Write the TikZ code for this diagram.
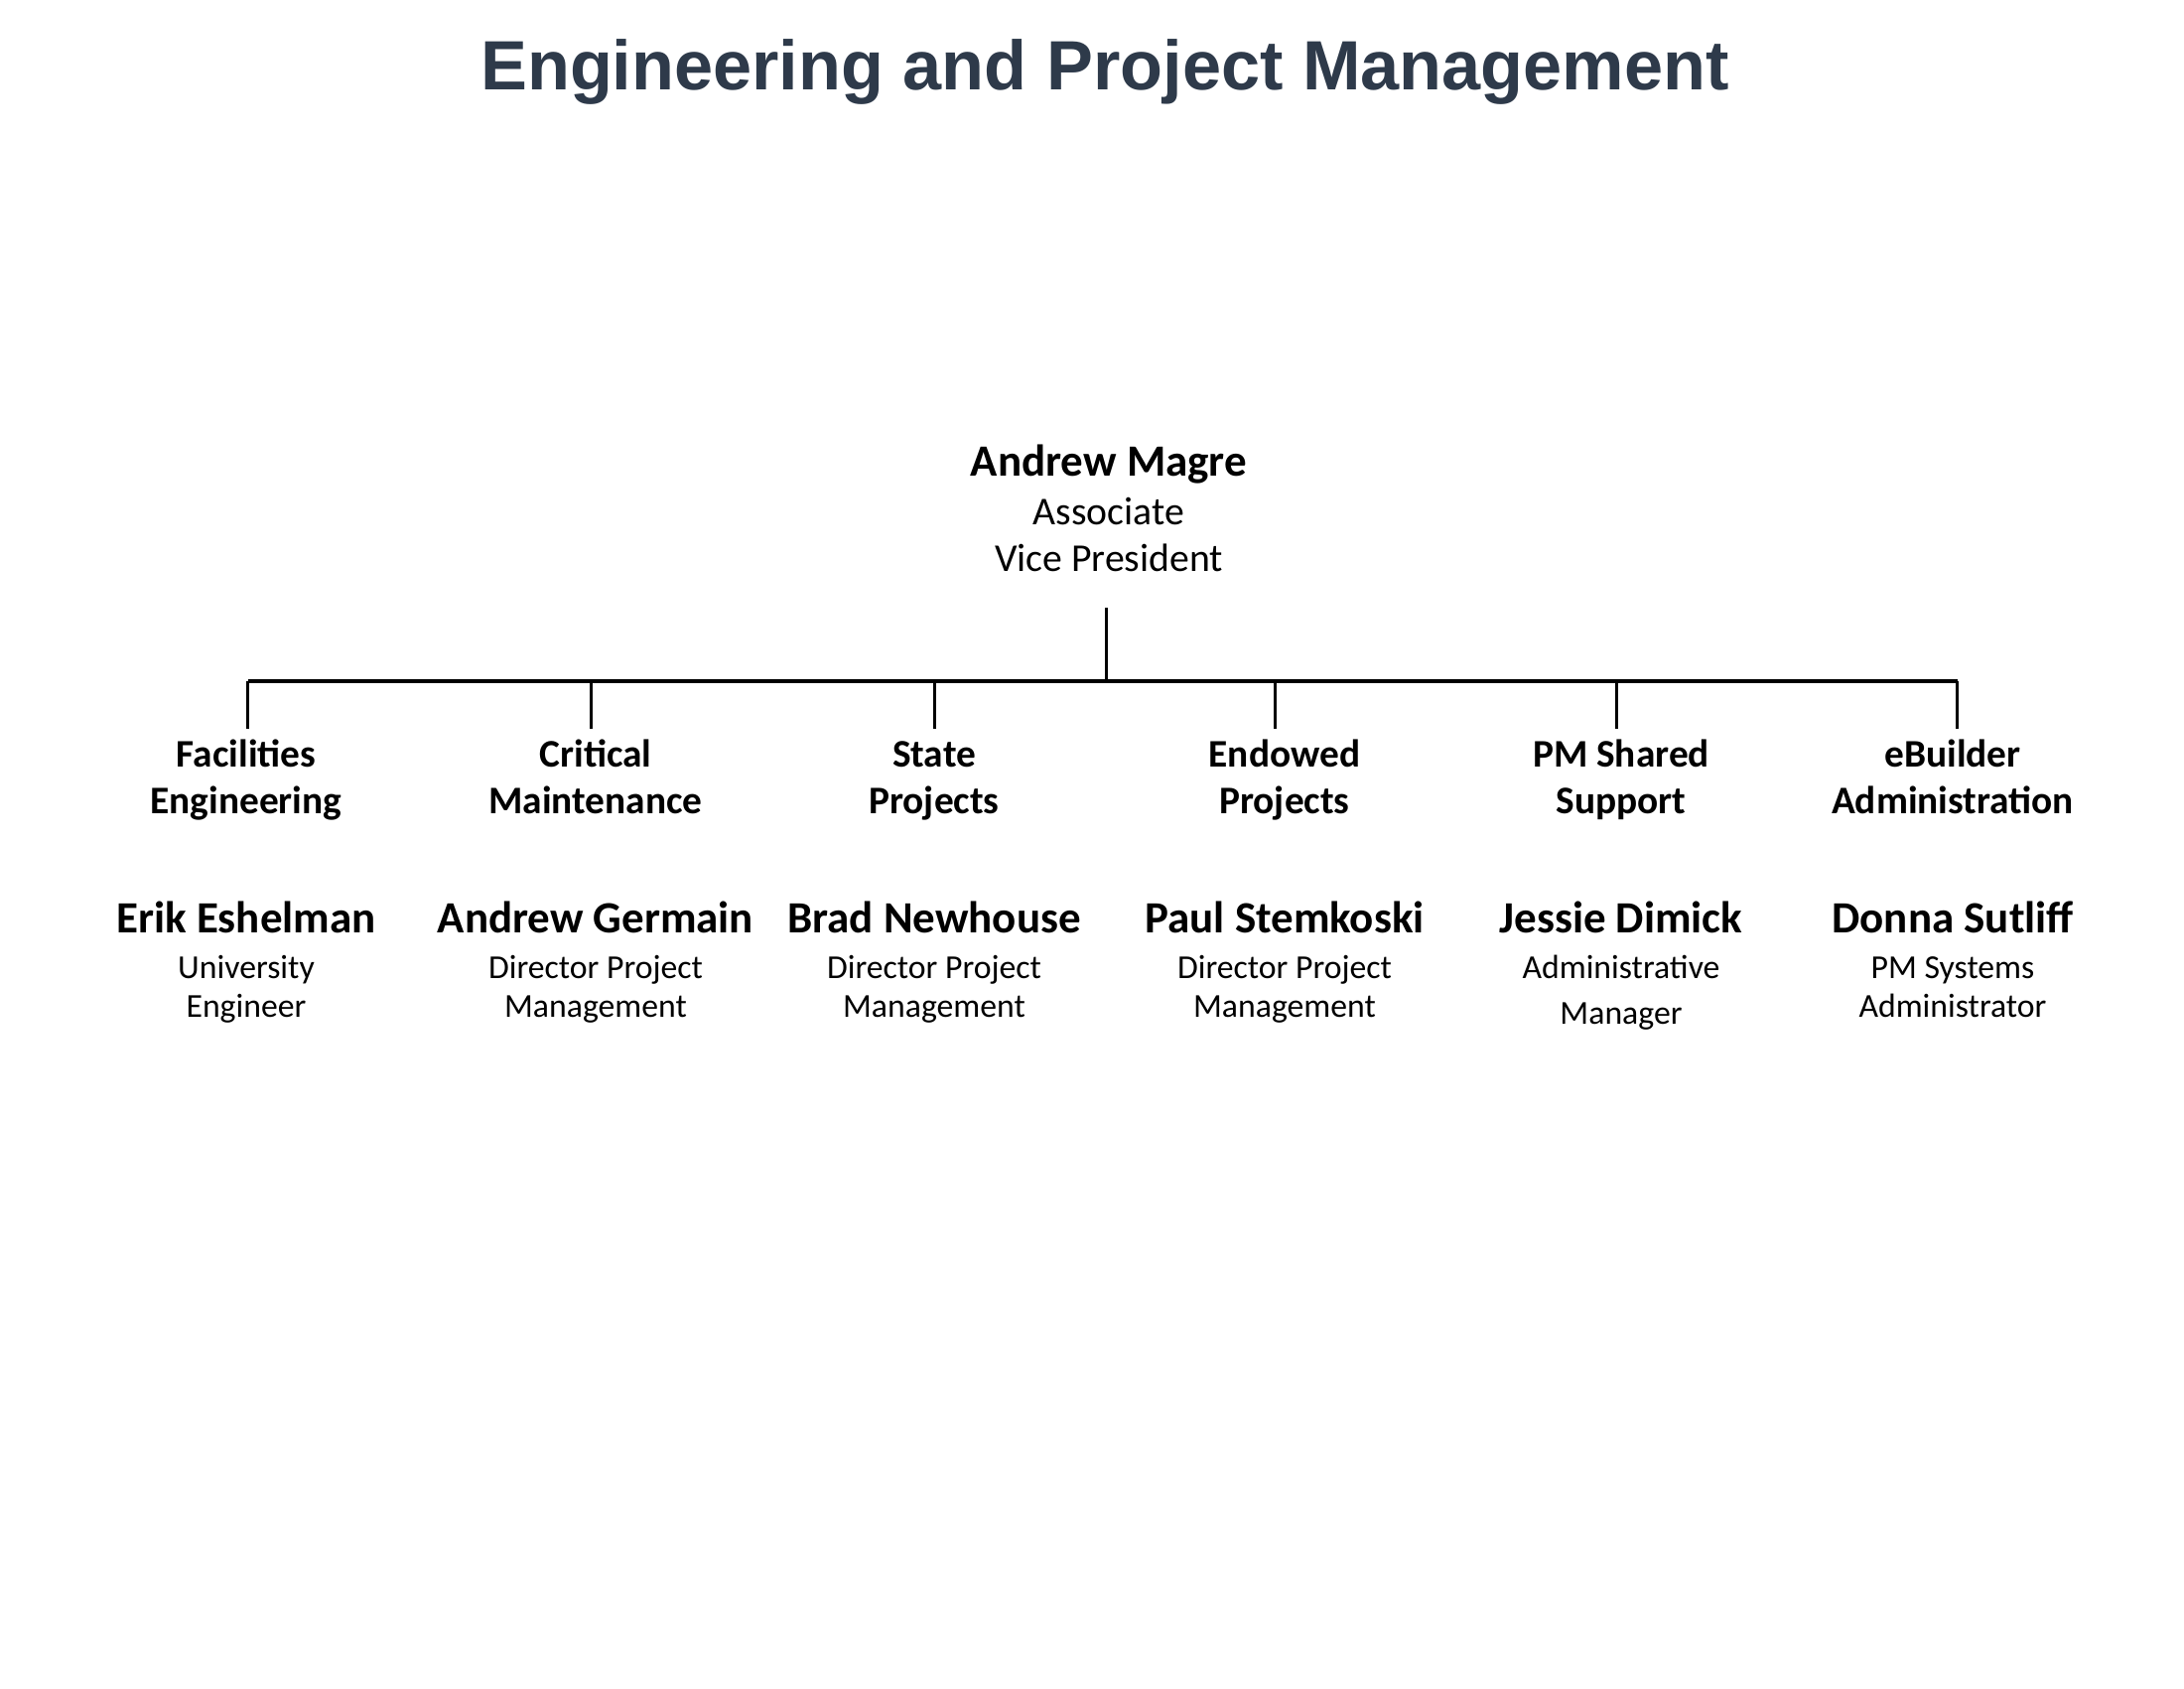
\documentclass[tikz,border=0pt]{standalone}
\usepackage{fontspec}
\setmainfont{Carlito}
\newfontfamily\titlefont{Liberation Sans}
\definecolor{titlec}{HTML}{2E3A4A}
\begin{document}
\begin{tikzpicture}[x=1cm,y=1cm,
  lbl/.style={inner sep=0pt,anchor=center,text height=0.7em,text depth=0.2em},
  bname/.style={lbl,font=\fontsize{12.8}{15}\selectfont\bfseries},
  sub/.style={lbl,font=\fontsize{11.3}{14}\selectfont},
  dept/.style={lbl,font=\fontsize{11.2}{14}\selectfont\bfseries},
  pname/.style={lbl,font=\fontsize{12.8}{15}\selectfont\bfseries},
  psub/.style={lbl,font=\fontsize{9.6}{12}\selectfont},
  conn/.style={line width=0.9pt}]
\useasboundingbox (0,0) rectangle (22,17);
\node[lbl,font=\titlefont\fontsize{20}{24}\selectfont\bfseries,text=titlec] (title) at (11.13,16.18) {Engineering and Project Management};
\node[bname] (vp) at (11.17,12.29) {Andrew Magre};
\node[sub] (vp1) at (11.17,11.80) {Associate};
\node[sub] (vp2) at (11.17,11.33) {Vice President};
\coordinate (top) at (11.142,10.88);
\coordinate (bar) at (11.142,10.14);
\draw[conn] (top) -- (bar);
\coordinate (L) at (2.495,10.14);
\coordinate (R) at (19.718,10.14);
\draw[conn] (L) -- (R);
\foreach \i/\xd/\xl/\da/\db/\nm/\sa/\sb/\sy in {
 1/2.495/2.48/Facilities/Engineering/Erik Eshelman/University/Engineer/6.84,
 2/5.954/6.00/Critical/Maintenance/Andrew Germain/Director Project/Management/6.84,
 3/9.412/9.41/State/Projects/Brad Newhouse/Director Project/Management/6.84,
 4/12.843/12.94/Endowed/Projects/Paul Stemkoski/Director Project/Management/6.84,
 5/16.287/16.33/PM Shared/Support/Jessie Dimick/Administrative/Manager/6.77,
 6/19.718/19.67/eBuilder/Administration/Donna Sutliff/PM Systems/Administrator/6.84}{
  \coordinate (b\i) at (\xd,10.14);
  \coordinate (d\i) at (\xd,9.66);
  \draw[conn] (b\i) -- (d\i);
  \node[dept] (da\i) at (\xl,9.36) {\da};
  \node[dept] (db\i) at (\xl,8.89) {\db};
  \node[pname] (n\i) at (\xl,7.69) {\nm};
  \node[psub] (sa\i) at (\xl,7.23) {\sa};
  \node[psub] (sb\i) at (\xl,\sy) {\sb};
}
\end{tikzpicture}
\end{document}
